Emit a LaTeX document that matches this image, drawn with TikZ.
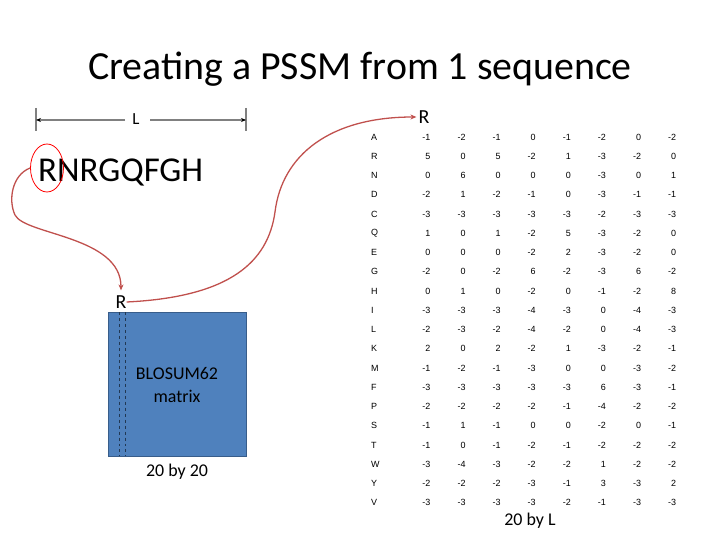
\documentclass[tikz,border=0pt]{standalone}
\usepackage{fontspec}
\setmainfont{Carlito}
\newfontfamily\arialfont{Liberation Sans}
\definecolor{arrowred}{RGB}{192, 80, 77}
\definecolor{matblue}{RGB}{79, 129, 189}
\definecolor{matedge}{RGB}{56, 93, 138}
\definecolor{dimgray}{RGB}{128, 128, 128}
\usetikzlibrary{shapes, arrows.meta, positioning, calc}

\begin{document}
\begin{tikzpicture}[x=1bp, y=-1bp,
  redarrow/.style={draw=arrowred, line width=1.3pt, -{Stealth[length=6pt, width=5pt]}},
  tbllet/.style={font=\arialfont\fontsize{9}{10}\selectfont, anchor=west, inner sep=0pt},
  tblnum/.style={font=\arialfont\fontsize{9}{10}\selectfont, anchor=east, inner sep=0pt},
  bodytxt/.style={font=\fontsize{18}{23}\selectfont, align=center, inner sep=0pt}
]
  \useasboundingbox (0,0) rectangle (720,540);

  \node[font=\fontsize{40}{44}\selectfont, inner sep=0pt] (title) at (360,69) {Creating a PSSM from 1 sequence};

  % length of the sequence
  \coordinate (dimL) at (36,120);
  \coordinate (dimR) at (246,120);
  \draw[dimgray, line width=1.2pt] (36,108) -- (36,131) (246,108) -- (246,131);
  \node[font=\fontsize{17}{18}\selectfont, inner sep=0pt] (lenL) at (136,119) {L};
  \draw[dimgray, line width=1.2pt, -{Stealth[length=5pt, width=4pt, black]}] (125,120) -- (dimL);
  \draw[dimgray, line width=1.2pt, -{Stealth[length=5pt, width=4pt, black]}] (150,120) -- (dimR);

  \node[font=\fontsize{35}{40}\selectfont, anchor=west, inner sep=0pt] (seq) at (38,172) {RNRGQFGH};
  \node[draw=red, ellipse, line width=0.8pt, minimum width=33bp, minimum height=48bp] (firstR) at (47,168) {};

  % BLOSUM62
  \node[draw=matedge, fill=matblue, line width=1pt, minimum width=138bp, minimum height=144bp] (blosum) at (177,384) {};
  \draw[matedge!60!black, dashed, line width=0.9pt] (119,312) -- (119,456) (125,312) -- (125,456);
  \node[bodytxt] (blosumtxt) at (177,385) {BLOSUM62\\matrix};
  \node[bodytxt] (blosumsize) at (177,472) {20 by 20};
  \node[font=\fontsize{20}{22}\selectfont, inner sep=0pt] (colR) at (121,302) {R};

  \draw[redarrow, shorten >=5pt] (firstR.west) .. controls (12,175) and (8,200) .. (15,215)
    .. controls (25,235) and (121,236) .. (colR.north);

  % PSSM
  \node[font=\fontsize{20}{22}\selectfont, inner sep=0pt] (pssmR) at (424,117) {R};
  \draw[redarrow, shorten >=2pt] (colR.east) .. controls (230,297) and (268,262) .. (275,212)
    .. controls (282,155) and (330,117) .. (pssmR.west);

  \foreach \aa [count=\i] in {A,R,N,D,C,Q,E,G,H,I,L,K,M,F,P,S,T,W,Y,V}
    \node[tbllet] (let-\i) at (371,{137+19.25*(\i-1)}) {\aa};

  \foreach \vals [count=\i] in {
    {-1,-2,-1,0,-1,-2,0,-2},
    {5,0,5,-2,1,-3,-2,0},
    {0,6,0,0,0,-3,0,1},
    {-2,1,-2,-1,0,-3,-1,-1},
    {-3,-3,-3,-3,-3,-2,-3,-3},
    {1,0,1,-2,5,-3,-2,0},
    {0,0,0,-2,2,-3,-2,0},
    {-2,0,-2,6,-2,-3,6,-2},
    {0,1,0,-2,0,-1,-2,8},
    {-3,-3,-3,-4,-3,0,-4,-3},
    {-2,-3,-2,-4,-2,0,-4,-3},
    {2,0,2,-2,1,-3,-2,-1},
    {-1,-2,-1,-3,0,0,-3,-2},
    {-3,-3,-3,-3,-3,6,-3,-1},
    {-2,-2,-2,-2,-1,-4,-2,-2},
    {-1,1,-1,0,0,-2,0,-1},
    {-1,0,-1,-2,-1,-2,-2,-2},
    {-3,-4,-3,-2,-2,1,-2,-2},
    {-2,-2,-2,-3,-1,3,-3,2},
    {-3,-3,-3,-3,-2,-1,-3,-3}}
    \foreach \v [count=\j] in \vals
      \node[tblnum] (cell-\i-\j) at ({395.5+35.1*\j},{137+19.25*(\i-1)}) {\v};

  \node[bodytxt] (pssmsize) at (530,521) {20 by L};
\end{tikzpicture}
\end{document}
